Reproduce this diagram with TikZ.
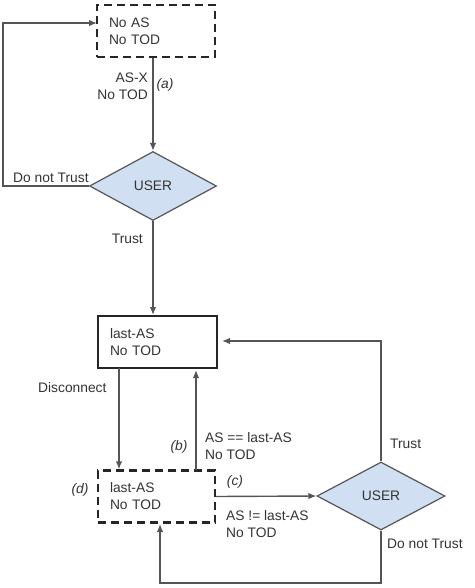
\documentclass[tikz,border=0pt]{standalone}
\usepackage{fontspec}
\setmainfont{Liberation Sans}
\usetikzlibrary{shapes.geometric,arrows.meta}
\definecolor{txt}{HTML}{333333}
\definecolor{ln}{HTML}{555555}
\definecolor{dfill}{HTML}{D0E0F2}
\begin{document}
\begin{tikzpicture}[x=1pt,y=-1pt,
  font=\fontsize{13.8}{17}\selectfont, text=txt,
  arr/.style={draw=ln, line width=1.4pt, -{Latex[length=8pt,width=6.5pt]}},
  statebox/.style={rectangle, draw=black!85, line width=2pt, minimum height=52pt, inner xsep=12pt, align=left, anchor=center},
  dashbox/.style={statebox, line width=2.2pt, dash pattern=on 8pt off 5pt},
  userdia/.style={diamond, draw=ln, fill=dfill, line width=1.2pt, inner sep=0pt, minimum width=127pt, minimum height=69pt},
  lbl/.style={align=left, inner sep=0pt},
  tag/.style={inner sep=0pt, font=\fontsize{13.8}{17}\selectfont\itshape}
]
\useasboundingbox (0,0) rectangle (474,588);

\node[dashbox, text width=94pt] (top) at (156,31) {No AS\\No TOD};
\node[userdia] (d1) at (153,186) {USER};
\node[statebox, text width=95pt] (b2) at (157.5,342) {last-AS\\No TOD};
\node[dashbox, text width=93pt] (b3) at (156.5,496.5) {last-AS\\No TOD};
\node[userdia, minimum width=128pt, minimum height=68pt] (d2) at (381,496) {USER};

\coordinate (lt) at (3,186);
\coordinate (topin) at (97,23);
\coordinate (rt) at (381,341);
\coordinate (b2in) at (222,341);
\coordinate (b2lo) at (119,368);
\coordinate (b2ri) at (196,370);
\coordinate (b3up) at (196,470);
\coordinate (bot) at (381,583);
\coordinate (b3in) at (160,524);

% connectors
\draw[arr] (d1.north |- top.south) -- (d1.north);
\draw[arr] (d1.west) -- (lt) |- (topin);
\draw[arr] (d1.south) -- (d1.south |- b2.north);
\draw[arr] (d2.north) |- (b2in);
\draw[arr] (b3up) -- (b2ri);
\draw[arr] (b2lo) -- (b2lo |- b3.north);
\draw[arr] (b3.east) -- (d2.west);
\draw[arr] (d2.south) -- (bot) -| (b3in);

% labels
\node[lbl, anchor=east, align=right] (lx) at (148,86) {AS-X\\No TOD};
\node[tag] (la) at (165,85) {(a)};
\node[lbl, anchor=west] (ldnt1) at (13,178) {Do not Trust};
\node[lbl, anchor=east] (ltr1) at (143,239) {Trust};
\node[lbl, anchor=west] (ldis) at (38,388) {Disconnect};
\node[tag] (lb) at (179,447) {(b)};
\node[lbl, anchor=west] (leq) at (205,446) {AS == last-AS\\No TOD};
\node[tag] (ld) at (80,490) {(d)};
\node[tag] (lc) at (235,482) {(c)};
\node[lbl, anchor=west] (lne) at (226,524) {AS != last-AS\\No TOD};
\node[lbl, anchor=west] (ltr2) at (390,444) {Trust};
\node[lbl, anchor=west] (ldnt2) at (387,544) {Do not Trust};
\end{tikzpicture}
\end{document}
